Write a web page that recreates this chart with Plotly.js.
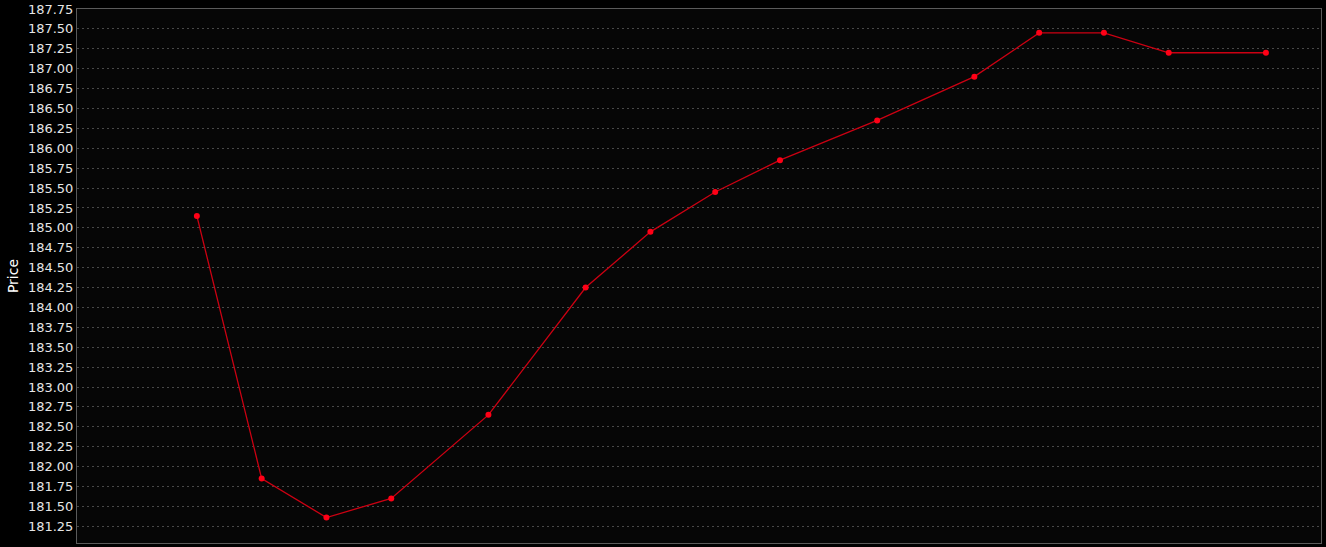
<!DOCTYPE html>
<html>
<head>
<meta charset="utf-8">
<script src="https://cdn.plot.ly/plotly-3.0.1.min.js"></script>
<style>
  html, body { margin: 0; padding: 0; background: #000; }
  #chart { width: 1326px; height: 547px; }
</style>
</head>
<body>
<div id="chart"></div>
<script>
const days = [0, 2, 4, 6, 9, 12, 14, 16, 18, 21, 24, 26, 28, 30, 33];
const prices = [185.15, 181.85, 181.36, 181.60, 182.65, 184.25, 184.95, 185.45,
                185.85, 186.35, 186.90, 187.45, 187.45, 187.20, 187.20];

const trace = {
  x: days,
  y: prices,
  type: 'scatter',
  mode: 'lines+markers',
  line: { color: '#cc0012', width: 1.3 },
  marker: { color: '#ff0016', size: 6 },
  hoverinfo: 'y'
};

const layout = {
  width: 1326, height: 547,
  paper_bgcolor: '#000000', plot_bgcolor: '#060606',
  font: { family: 'DejaVu Sans, Verdana, sans-serif', size: 13, color: '#e6e6e6' },
  margin: { l: 77, r: 5, t: 9, b: 4 },
  showlegend: false,
  xaxis: {
    range: [-3.7, 34.7],
    showticklabels: false, ticks: '', showgrid: false, zeroline: false,
    showline: true, linecolor: '#5a5a5a', linewidth: 1, mirror: true
  },
  yaxis: {
    title: { text: 'Price', font: { size: 14, color: '#ffffff' }, standoff: 6 },
    range: [181.04, 187.75],
    dtick: 0.25, tick0: 181.25, tickformat: '.2f',
    ticks: '', ticklen: 0,
    showgrid: true, gridcolor: '#484848', gridwidth: 1, griddash: '2px,3px',
    zeroline: false,
    showline: true, linecolor: '#5a5a5a', linewidth: 1, mirror: true
  }
};

Plotly.newPlot('chart', [trace], layout, { displayModeBar: false, staticPlot: true });
</script>
</body>
</html>
